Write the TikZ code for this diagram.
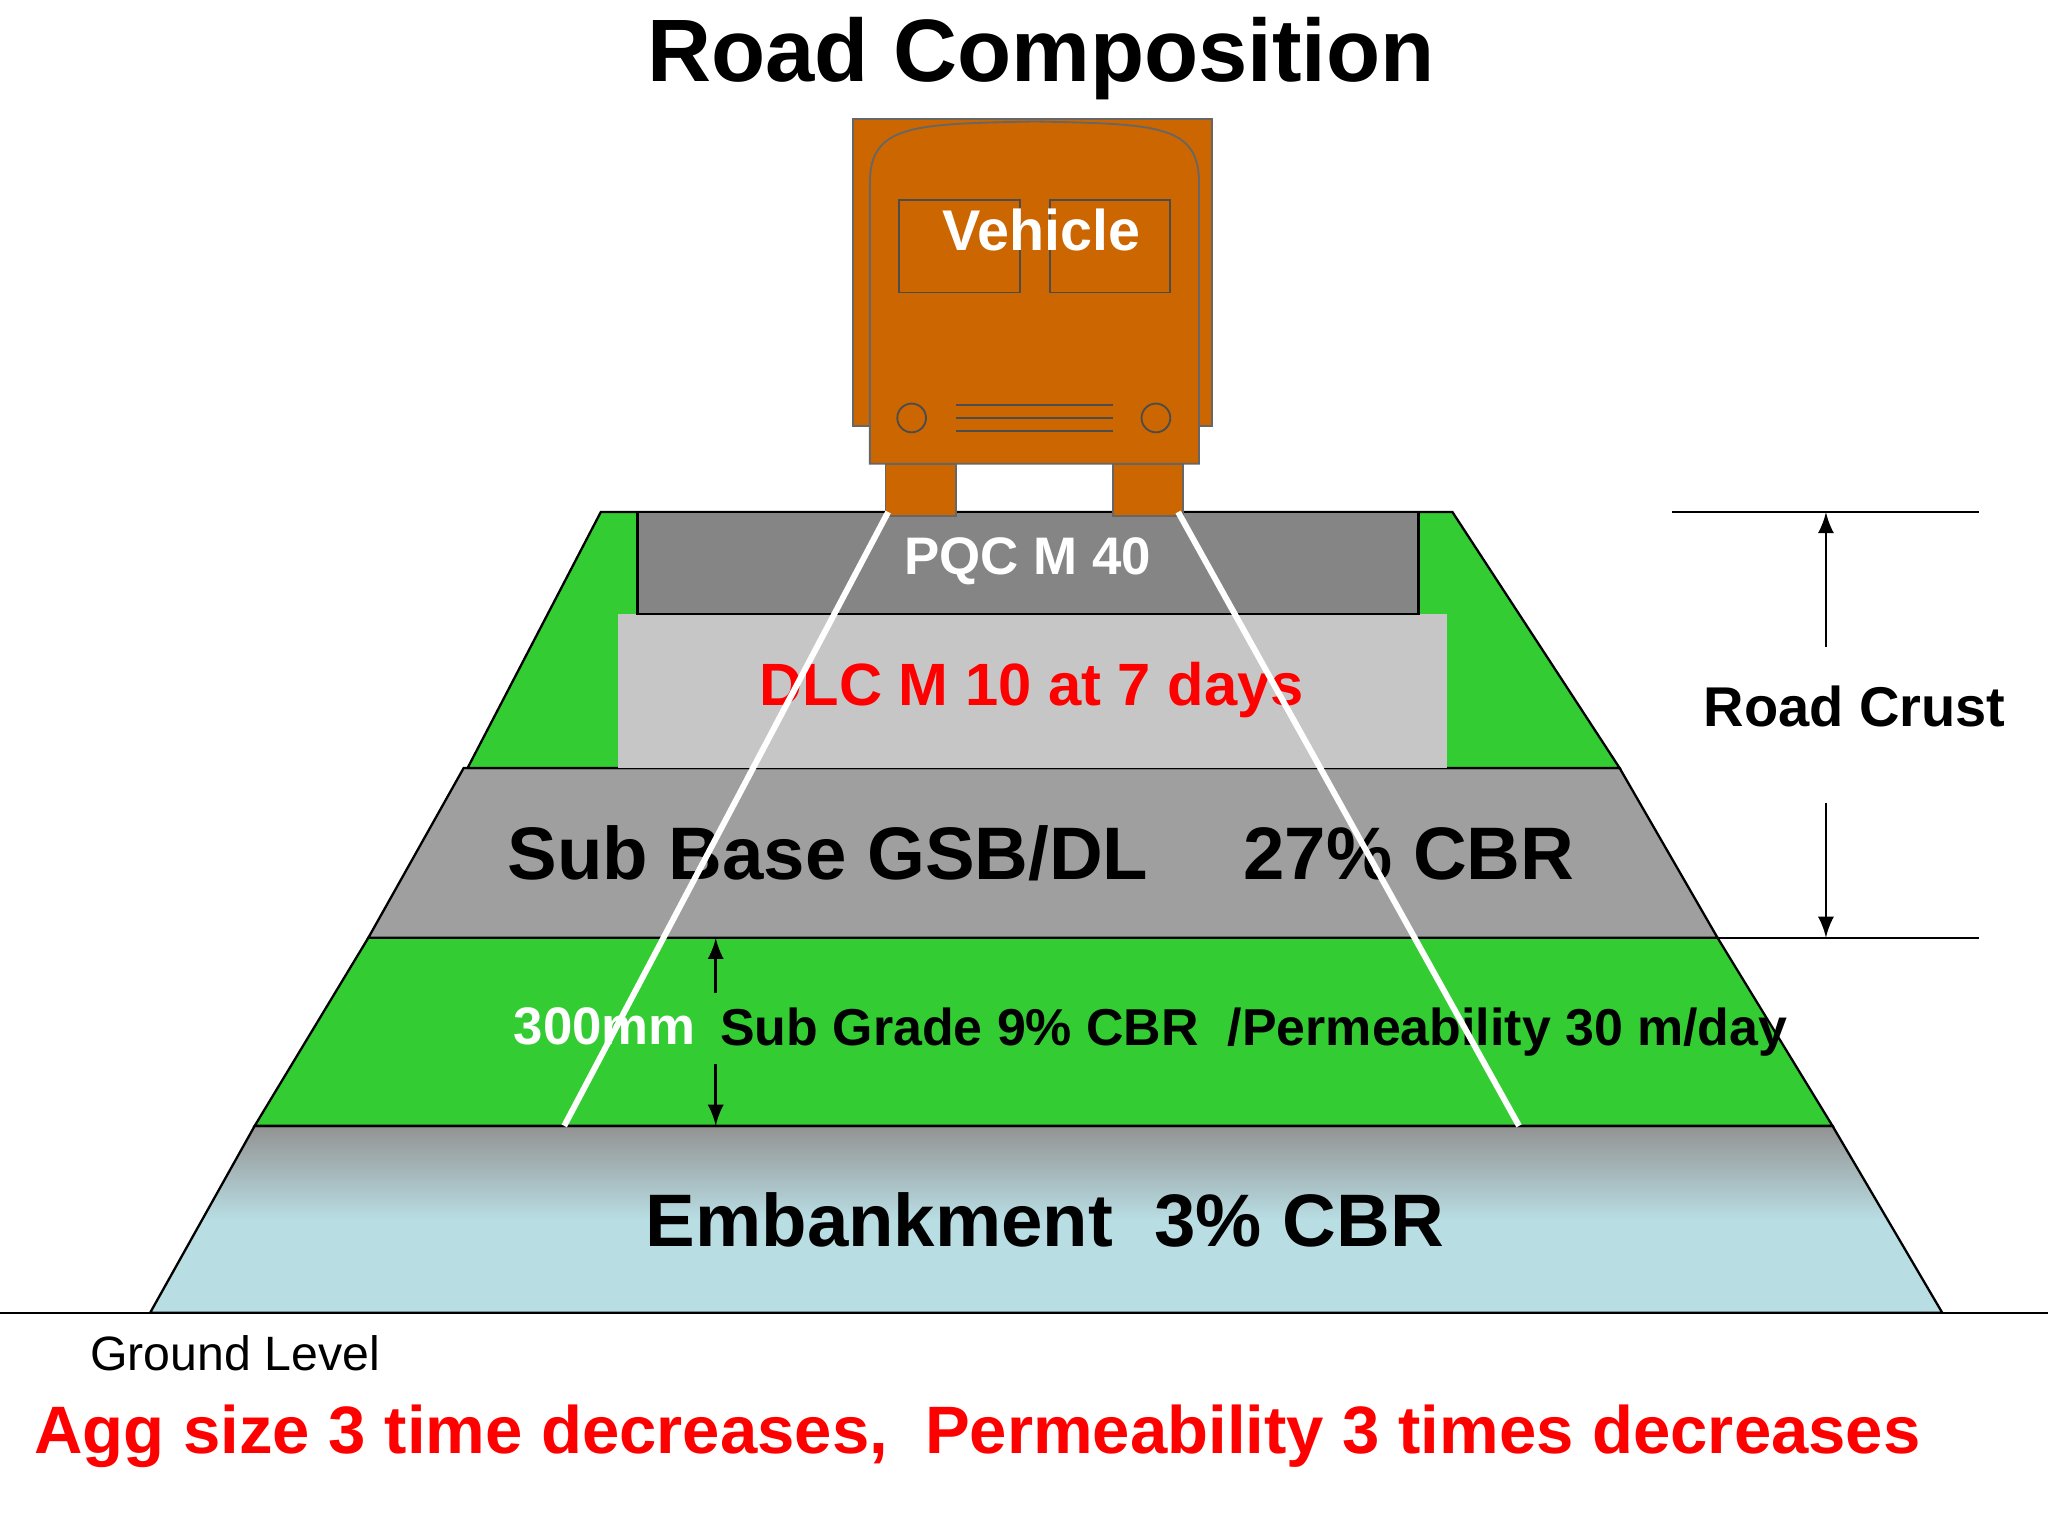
\documentclass[tikz,border=0pt]{standalone}
\usepackage{fontspec}
\setmainfont{Liberation Sans}
\begin{document}
\begin{tikzpicture}[x=0.01cm,y=-0.01cm,
  lay/.style={draw=black,line width=0.5pt},
  wl/.style={white,line width=1.3pt},
  big/.style={font=\bfseries\fontsize{16.2}{18}\selectfont},
  arr/.style={-latex,line width=0.6pt}]
\definecolor{gr}{HTML}{33CC33}
\definecolor{orng}{HTML}{CC6600}
\definecolor{lb}{HTML}{B8DDE3}
\useasboundingbox (0,0) rectangle (1568,1176);
\fill[white] (0,0) rectangle (1568,1176);
\node[font=\bfseries\fontsize{19.3}{22}\selectfont] (title) at (797,45) {Road Composition};
% embankment
\shade[top color=gray!85,bottom color=lb,middle color=lb] (115,1005)--(1487,1005)--(1403,862)--(195,862)--cycle;
\draw[lay] (115,1005)--(1487,1005)--(1403,862)--(195,862)--cycle;
\draw[line width=0.5pt] (0,1005)--(1568,1005);
% subgrade
\filldraw[lay,fill=gr] (195,862)--(1403,862)--(1315,718)--(282,718)--cycle;
% subbase
\filldraw[lay,fill=gray!75] (282,718)--(1315,718)--(1240,588)--(355,588)--cycle;
% upper green
\filldraw[lay,fill=gr] (358,588)--(1240,588)--(1112,392)--(460,392)--cycle;
\fill[gray!45] (473,470) rectangle (1108,588);
\filldraw[lay,fill=black!48] (488,392) rectangle (1086,470);
% vehicle
\filldraw[draw=black!60,fill=orng] (653,91) rectangle (928,326);
\filldraw[draw=black!60,fill=orng] (666,355)--(666,140) .. controls (666,95) and (700,95) .. (792,93) .. controls (885,95) and (918,95) .. (918,140)--(918,355)--cycle;
\filldraw[draw=black!60,fill=orng] (678,355) rectangle (732,395);
\filldraw[draw=black!60,fill=orng] (852,355) rectangle (906,395);
\draw[black!70] (688,153) rectangle (781,224) (804,153) rectangle (896,224);
\draw[black!70] (698,320) circle (11) (885,320) circle (11);
\draw[black!70] (732,310)--(852,310) (732,320)--(852,320) (732,330)--(852,330);
\node[white,font=\bfseries\fontsize{12.5}{15}\selectfont] (veh) at (797,176) {Vehicle};
\coordinate (l1) at (680,392); \coordinate (l2) at (432,862);
\coordinate (r1) at (902,392); \coordinate (r2) at (1163,862);
% texts
\node[white,font=\bfseries\fontsize{11.5}{13}\selectfont] (pqc) at (787,430) {PQC M 40};
\node[red,font=\bfseries\fontsize{13}{15}\selectfont] (dlc) at (790,528) {DLC M 10 at 7 days};
\node[big] (sb) at (797,653) {Sub Base GSB/DL \quad 27\% CBR};
\node[font=\bfseries\fontsize{11.3}{13}\selectfont] (sg) at (960,790) {Sub Grade 9\% CBR \ /Permeability 30 m/day};
\node[big] (emb) at (800,934) {Embankment \ 3\% CBR};
\draw[wl] (l1)--(l2) (r1)--(r2);
\node[white,font=\bfseries\fontsize{11.5}{13}\selectfont] (mm) at (463,786) {300mm};
\coordinate (a1) at (548,760); \coordinate (a2) at (548,718);
\coordinate (a3) at (548,815); \coordinate (a4) at (548,862);
\draw[arr] (a1)--(a2); \draw[arr] (a3)--(a4);
% road crust
\draw[line width=0.5pt] (1280,392)--(1515,392) (1315,718)--(1515,718);
\coordinate (c1) at (1398,495); \coordinate (c2) at (1398,392);
\coordinate (c3) at (1398,615); \coordinate (c4) at (1398,718);
\draw[arr] (c1)--(c2); \draw[arr] (c3)--(c4);
\node[font=\bfseries\fontsize{12.2}{15}\selectfont] (rc) at (1420,541) {Road Crust};
\node[font=\fontsize{10.5}{13}\selectfont] (gl) at (180,1036) {Ground Level};
\node[red,font=\bfseries\fontsize{14.6}{17}\selectfont,anchor=west] (agg) at (14,1100) {Agg size 3 time decreases, \ Permeability 3 times decreases};
\end{tikzpicture}
\end{document}
